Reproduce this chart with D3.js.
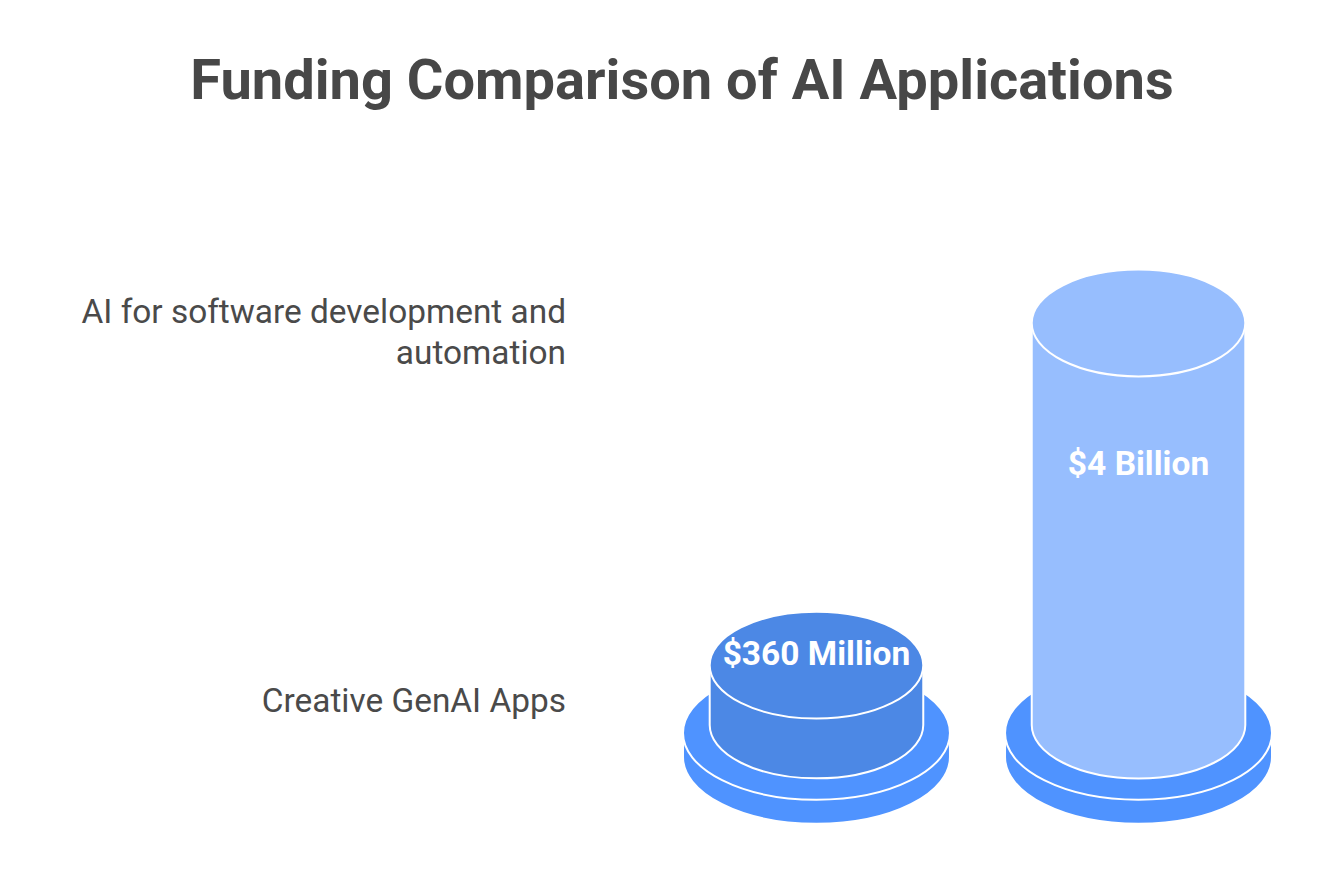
<!DOCTYPE html>
<html>
<head>
<meta charset="utf-8">
<script src="https://cdn.jsdelivr.net/npm/d3@7"></script>
<style>
  body { margin: 0; background: #fff; }
  text { font-family: Roboto, "Noto Sans", sans-serif; }
</style>
</head>
<body>
<svg id="chart" width="1319" height="887"></svg>
<script>
  let categories = ["Creative GenAI Apps", "AI for software development and automation"]
  let label_lines = [["Creative GenAI Apps"], ["AI for software development and", "automation"]]
  let values = [360, 4000]   // millions of USD
  let value_labels = ["$360 Million", "$4 Billion"]

  let body_colors = ["#4c88e5", "#97befe"]
  let base_color = "#4f93ff"

  function make_scales() {
    return {
      x: d3.scaleBand()
        .domain(categories)
        .range([683, 1272])
        .paddingInner(0.171),
      y: d3.scaleLinear()
        .domain([0, 4000])
        .range([699, 323]),
      label_y: d3.scalePoint()
        .domain(categories)
        .range([700, 332])
    }
  }

  function side_path(cx, rx, ry, y_top, y_bot) {
    return `M${cx - rx},${y_top} L${cx - rx},${y_bot} ` +
      `A${rx},${ry} 0 0 0 ${cx + rx},${y_bot} L${cx + rx},${y_top} Z`
  }

  function draw_cylinder(g, cx, rx, y_top, y_bot, color) {
    let ry = rx / 2
    g.append("path")
      .attr("d", side_path(cx, rx, ry, y_top, y_bot))
      .attr("fill", color)
      .attr("stroke", "#fff")
      .attr("stroke-width", 2)
    g.append("ellipse")
      .attr("cx", cx).attr("cy", y_top)
      .attr("rx", rx).attr("ry", ry)
      .attr("fill", color)
      .attr("stroke", "#fff")
      .attr("stroke-width", 2)
  }

  function draw_bars(scales) {
    let svg = d3.select("#chart")
    let base_top = 733, base_bot = 757, body_bot = 725
    categories.forEach((c, i) => {
      let g = svg.append("g")
      let cx = scales.x(c) + scales.x.bandwidth() / 2
      let rx_base = scales.x.bandwidth() / 2
      let rx_body = scales.x.bandwidth() * 0.4
      draw_cylinder(g, cx, rx_base, base_top, base_bot, base_color)
      let y_top = scales.y(values[i])
      draw_cylinder(g, cx, rx_body, y_top, body_bot, body_colors[i])

      let h = body_bot - y_top
      let ly = h < 100 ? y_top - 12 : y_top + 0.35 * h
      g.append("text")
        .attr("x", cx)
        .attr("y", ly)
        .attr("text-anchor", "middle")
        .attr("dominant-baseline", "central")
        .attr("fill", "#fff")
        .attr("font-size", 33.5)
        .attr("font-weight", 700)
        .text(value_labels[i])
    })
  }

  function draw_labels(scales) {
    let svg = d3.select("#chart")
    let line_h = 41
    categories.forEach((c, i) => {
      let lines = label_lines[i]
      let y0 = scales.label_y(c) - (lines.length - 1) * line_h / 2
      let t = svg.append("text")
        .attr("text-anchor", "end")
        .attr("fill", "#4a4a4a")
        .attr("font-size", 33.4)
      lines.forEach((l, j) => {
        t.append("tspan")
          .attr("x", 566)
          .attr("y", y0 + j * line_h)
          .attr("dominant-baseline", "central")
          .text(l)
      })
    })
  }

  function draw_title() {
    d3.select("#chart").append("text")
      .attr("x", 682)
      .attr("y", 80)
      .attr("text-anchor", "middle")
      .attr("dominant-baseline", "central")
      .attr("fill", "#474747")
      .attr("font-size", 56)
      .attr("font-weight", 700)
      .text("Funding Comparison of AI Applications")
  }

  function visualize() {
    let scales = make_scales()
    draw_title()
    draw_labels(scales)
    draw_bars(scales)
  }

  visualize()
</script>
</body>
</html>
